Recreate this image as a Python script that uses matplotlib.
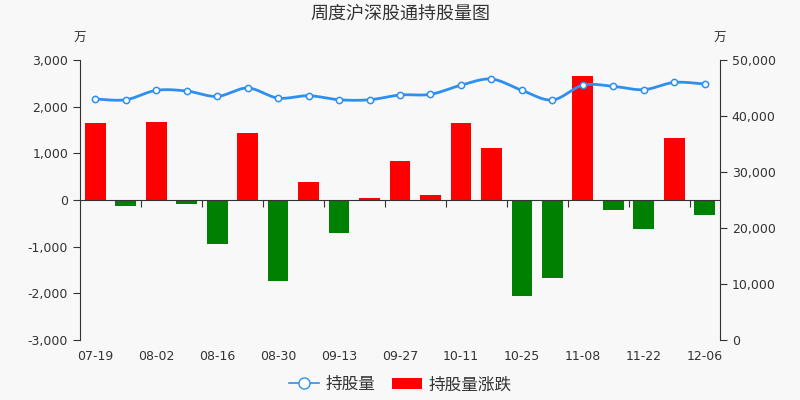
import numpy as np
import matplotlib
matplotlib.use("Agg")
import matplotlib.pyplot as plt
from matplotlib.lines import Line2D
from matplotlib.patches import Patch

plt.rcParams['font.family'] = ['Noto Sans CJK SC', 'DejaVu Sans']

weeks = ["07-19", "07-26", "08-02", "08-09", "08-16", "08-23", "08-30", "09-06",
         "09-13", "09-20", "09-27", "10-04", "10-11", "10-18", "10-25", "11-01",
         "11-08", "11-15", "11-22", "11-29", "12-06"]
change = [1643, -129, 1671, -86, -936, 1436, -1743, 386, -714, 50, 836,
          100, 1650, 1114, -2064, -1679, 2664, -221, -629, 1321, -314]
holding = [43040, 42900, 44580, 44460, 43500, 45000, 43200, 43630, 42900, 42900, 43750,
           43870, 45500, 46600, 44580, 42860, 45500, 45300, 44700, 46000, 45700]

BG = '#f8f8f8'
TXT = '#333333'
LINE = '#2f8ff0'
fig = plt.figure(figsize=(8, 4), dpi=100, facecolor=BG)
ax = fig.add_axes([0.1, 0.15, 0.8, 0.7], facecolor=BG)
x = np.arange(len(weeks))
colors = ['#ff0000' if v >= 0 else '#008000' for v in change]
ax.bar(x, change, width=0.68, color=colors, zorder=1)
ax.set_xlim(-0.5, len(weeks) - 0.5)
ax.set_ylim(-3000, 3000)
ax.set_yticks(np.arange(-3000, 3001, 1000))
ax.yaxis.set_major_formatter(matplotlib.ticker.FuncFormatter(lambda v, p: f"{int(v):,}"))
ax.set_xticks(x[::2])
ax.set_xticklabels(weeks[::2])
ax.tick_params(axis='x', length=0, pad=7, labelsize=9, colors=TXT)
ax.tick_params(axis='y', length=5, labelsize=9, colors=TXT, direction='out')
for lab in ax.get_xticklabels() + ax.get_yticklabels():
    lab.set_family('DejaVu Sans')
for s in ['top', 'bottom', 'right']:
    ax.spines[s].set_visible(False)
ax.spines['left'].set_color(TXT)

sec = ax.secondary_xaxis(0.5)
sec.set_xticks(np.arange(-0.5, len(weeks), 2)[1:])
sec.set_xticklabels([])
sec.tick_params(axis='x', length=5, direction='in', colors=TXT)
sec.spines['bottom'].set_color(TXT)
sec.spines['top'].set_color(TXT)
sec.set_zorder(5)

ax2 = ax.twinx()
ax2.set_ylim(0, 50000)
ax2.set_yticks(np.arange(0, 50001, 10000))
ax2.yaxis.set_major_formatter(matplotlib.ticker.FuncFormatter(lambda v, p: f"{int(v):,}"))
ax2.tick_params(axis='y', length=5, labelsize=9, colors=TXT)
for lab in ax2.get_yticklabels():
    lab.set_family('DejaVu Sans')
for s in ['top', 'bottom', 'left']:
    ax2.spines[s].set_visible(False)
ax2.spines['right'].set_color(TXT)

# smooth line rendering (cubic Hermite through the data points)
hx = x.astype(float)
hy = np.array(holding, dtype=float)
sx, sy = [], []
n = len(hx)
t = np.linspace(0, 1, 25)
for i in range(n - 1):
    idx = [max(i - 1, 0), i, i + 1, min(i + 2, n - 1)]
    for arr, out in ((hx, sx), (hy, sy)):
        a0, a1, a2, a3 = arr[idx]
        m1 = (a2 - a0) / 2
        m2 = (a3 - a1) / 2
        h00 = 2 * t**3 - 3 * t**2 + 1
        h10 = t**3 - 2 * t**2 + t
        h01 = -2 * t**3 + 3 * t**2
        h11 = t**3 - t**2
        out.extend(h00 * a1 + h10 * m1 + h01 * a2 + h11 * m2)
ax2.plot(sx, sy, color=LINE, lw=2, zorder=3)
ax2.plot(hx, hy, 'o', ms=4.5, mfc='white', mec=LINE, mew=1.1, zorder=4)

fig.text(0.5, 0.965, "周度沪深股通持股量图", ha='center', va='center', fontsize=13, color=TXT)
fig.text(0.1, 0.905, "万", ha='center', va='center', fontsize=9, color=TXT)
fig.text(0.9, 0.905, "万", ha='center', va='center', fontsize=9, color=TXT)

handles = [Line2D([0], [0], color=LINE, lw=1.2, marker='o', ms=8, mfc='white', mec=LINE),
           Patch(facecolor='#ff0000')]
fig.legend(handles, ["持股量", "持股量涨跌"], loc='center', bbox_to_anchor=(0.5, 0.038), ncol=2,
           frameon=False, fontsize=12, handlelength=1.8, columnspacing=1.0, handletextpad=0.4,
           labelcolor=TXT)

fig.savefig("out.png", dpi=100, facecolor=BG)
